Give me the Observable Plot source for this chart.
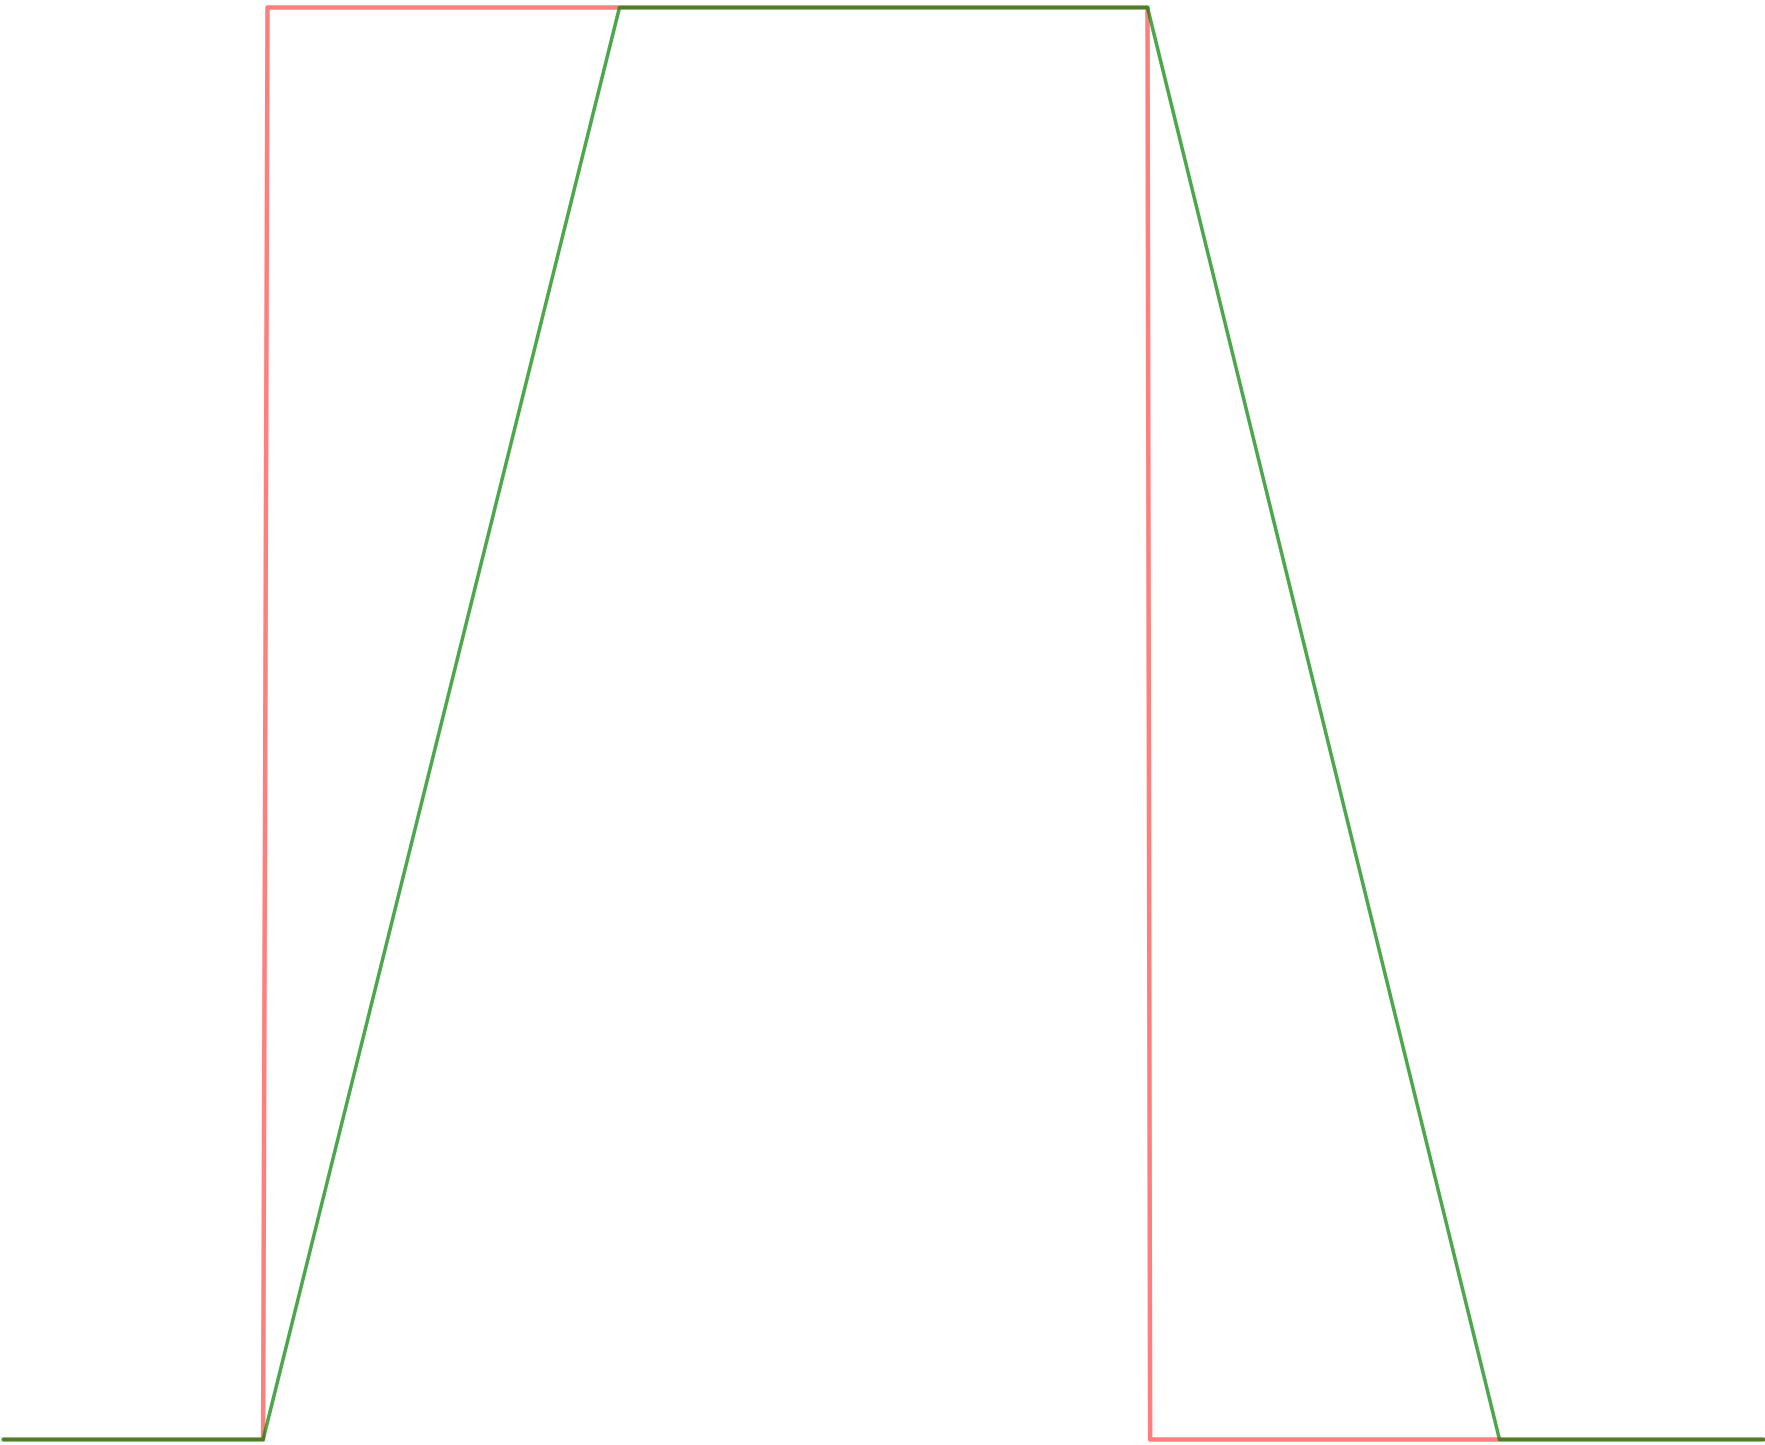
<!DOCTYPE html>
<html>
<head>
<meta charset="utf-8">
<script src="https://cdn.jsdelivr.net/npm/d3@7"></script>
<script src="https://cdn.jsdelivr.net/npm/@observablehq/plot@0.6"></script>
<style>
  html, body { margin: 0; padding: 0; background: #fff; }
  #chart svg { display: block; }
</style>
</head>
<body>
<div id="chart"></div>
<script>
// Red series: abrupt step (slightly slanted edges)
const redX = [0, 2.95, 3.0, 13.0, 13.03, 20];
const redY = [0, 0, 1, 1, 0, 0];
// Green series: trapezoid ramp
const greenX = [0, 2.95, 7.0, 13.0, 17.0, 20];
const greenY = [0, 0, 1, 1, 0, 0];

const red = redX.map((x, i) => ({x, y: redY[i]}));
const green = greenX.map((x, i) => ({x, y: greenY[i]}));

const chart = Plot.plot({
  width: 1765,
  height: 1445,
  marginLeft: 3,
  marginRight: 2,
  marginTop: 7,
  marginBottom: 6,
  x: {domain: [0, 20], axis: null},
  y: {domain: [0, 1], axis: null},
  marks: [
    Plot.line(red, {x: "x", y: "y", stroke: "#ff0000", strokeOpacity: 0.5, strokeWidth: 4.5}),
    Plot.line(green, {x: "x", y: "y", stroke: "#008000", strokeOpacity: 0.7, strokeWidth: 3.5})
  ]
});
document.getElementById("chart").appendChild(chart);
</script>
</body>
</html>
